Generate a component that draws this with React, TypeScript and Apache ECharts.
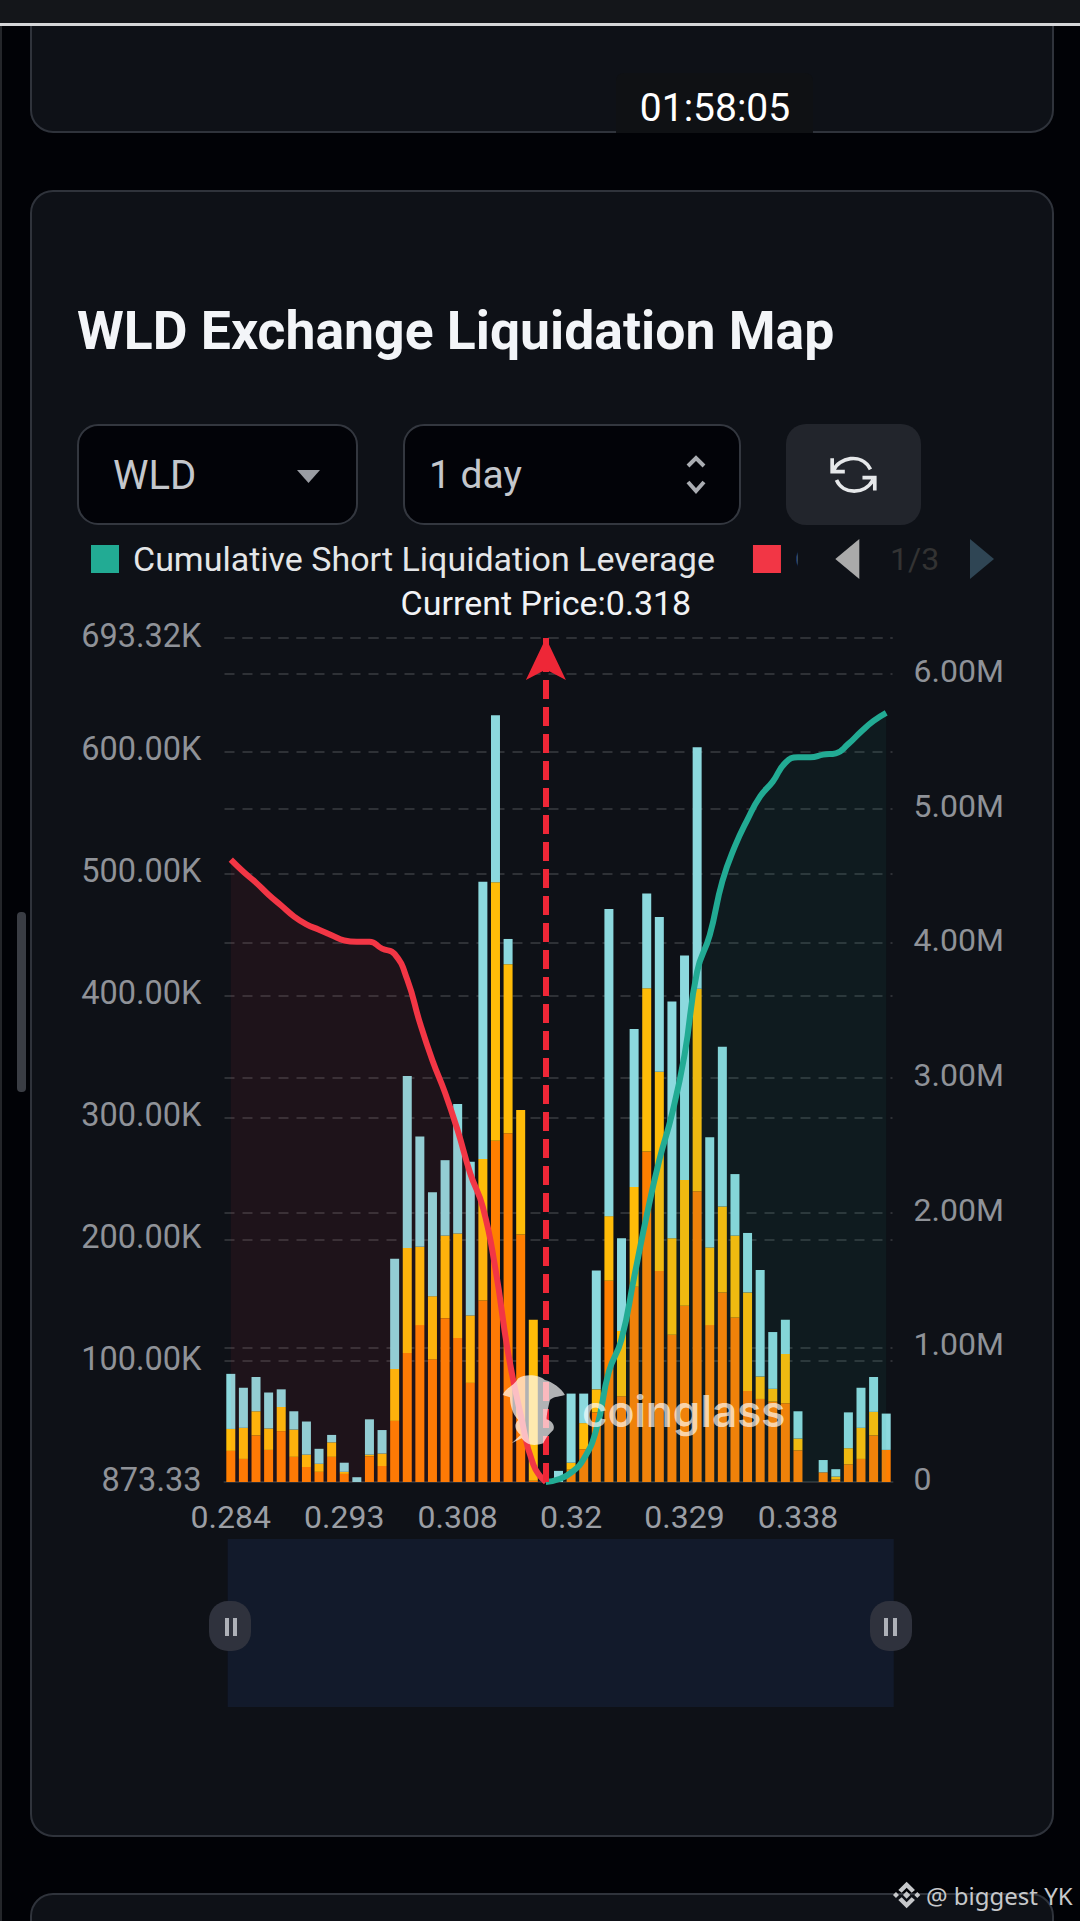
import React, { useEffect, useRef } from "react";
import * as echarts from "echarts";

// price buckets, one per bar
const categories = [
  "0.284", "0.285", "0.286", "0.287", "0.288", "0.289", "0.29", "0.291", "0.292", "0.293",
  "0.295", "0.297", "0.298", "0.3", "0.302", "0.303", "0.305", "0.306", "0.308",
  "0.309", "0.311", "0.312", "0.314", "0.315", "0.316", "0.318", "0.319", "0.32",
  "0.321", "0.322", "0.323", "0.324", "0.325", "0.326", "0.327", "0.328", "0.329",
  "0.33", "0.331", "0.332", "0.333", "0.334", "0.335", "0.336", "0.337", "0.338",
  "0.339", "0.34", "0.341", "0.342", "0.343", "0.344", "0.345",
];

// stacked liquidation bars, in thousands
const orangeK = [
  26.4, 19.8, 39.1, 27.2, 42.6, 21.5, 13.2, 9.2, 21.5, 7.5, 0, 22, 14, 51, 106.8, 129.6, 101.5, 135.3, 119, 82.2,
  149.8, 280.8, 286.9, 203.9, 2, 0, 0, 11, 27.7, 58, 166, 71.2, 161, 272, 174, 121.7, 145.4, 239.5, 129.6, 156.4,
  135.8, 75.6, 69, 66.8, 65.5, 26.8, 0, 8.8, 3, 15.4, 19.8, 39.1, 27.2,
];
const yellowK = [
  18, 25.5, 19.8, 17.6, 19.8, 22.4, 10.1, 6.6, 11.9, 1.7, 0, 1.3, 10.2, 42.6, 86.1, 64.2, 51.8, 67.7, 85.7, 55.3,
  116, 212.2, 138.8, 102.1, 132, 0, 0, 5.7, 21.5, 18.9, 53, 53.6, 82, 134, 163.4, 79.1, 103.3, 166, 63.7, 70.6,
  67.2, 80.8, 18.4, 10.5, 40.4, 9.7, 0, 0, 2.3, 13.2, 25.5, 19.3, 0,
];
const tealK = [
  45.2, 32.9, 28.1, 29.5, 14.5, 15, 27.2, 12.3, 6.1, 7.5, 4.8, 29, 19.3, 90.4, 141, 90.5, 85.3, 61.9, 106.3, 126.1,
  227.6, 137, 20.7, 0, 0, 0, 10, 56.7, 24.2, 97.5, 252, 76, 129.6, 77.7, 127, 194.2, 184.1, 198.2, 90.5, 131,
  50.5, 48.8, 87.5, 46.6, 28.1, 22.4, 0, 10.1, 6.1, 29.4, 32.9, 28.6, 29.8,
];

// cumulative curves, in millions; long side runs up to the current price, short side from it
const longM = [
  4.62, 4.53, 4.45, 4.36, 4.28, 4.2, 4.14, 4.1, 4.06, 4.02, 4.01, 4.01, 3.96, 3.92, 3.73, 3.41, 3.13, 2.89, 2.61, 2.29,
  2.04, 1.58, 0.96, 0.5, 0.13, 0,
];
const shortM = [
  0, 0.02, 0.07, 0.17, 0.39, 0.82, 1.06, 1.52, 1.98, 2.39, 2.73, 3.17, 3.79, 4.06, 4.46, 4.72, 4.92, 5.09, 5.2, 5.34,
  5.38, 5.38, 5.4, 5.41, 5.48, 5.57, 5.65, 5.71,
];

const currentPrice = "0.318";
const fontFamily = "Roboto";
const cardBg = "#0e1117";
const cardBorder = "#2f333b";

echarts.graphic.registerShape(
  "mascot",
  echarts.graphic.extendPath(
    "M38 105C45 85 70 80 85 55C105 40 150 45 165 60C185 65 215 85 225 105C200 112 190 110 180 120C175 140 170 165 170 178C190 185 195 200 190 210C175 225 170 230 160 250C130 260 110 255 95 235L65 250L92 225C75 210 70 195 85 180C65 160 60 130 60 112Z",
    {}
  )
);
echarts.graphic.registerShape(
  "refresh",
  echarts.graphic.extendPath(
    "M522 120C535 85 605 65 632 118M530 150C550 195 615 195 640 150M517 85L517 125L555 125M645 182L645 143L608 143",
    {}
  )
);
echarts.graphic.registerShape(
  "binance",
  echarts.graphic.extendPath(
    "M80 65L105 90L95 98L80 83L65 98L55 90ZM80 145L105 120L95 112L80 127L65 112L55 120ZM80 94L91 105L80 116L69 105ZM48 96L57 105L48 114L39 105ZM112 96L121 105L112 114L103 105Z",
    {}
  )
);

const formatLeft = (value: number) => {
  if (value >= 1000) return `${(value / 1000).toFixed(2)}K`;
  return value.toFixed(2);
};

const formatRight = (value: number) => {
  if (value === 0) return "0";
  return `${(value / 1000000).toFixed(2)}M`;
};

const card = (x: number, y: number, width: number, height: number) => ({
  type: "rect",
  z: -90,
  shape: { x, y, width, height, r: 22 },
  style: { fill: cardBg, stroke: cardBorder, lineWidth: 2 },
});

const label = (text: string, x: number, y: number, font: string, fill: string, textAlign = "left", z = 10) => ({
  type: "text",
  z,
  x,
  y,
  style: { text, font, fill, textAlign, textVerticalAlign: "middle" },
});

// slider handle pill, drawn over the dataZoom's own (invisible) handle
const pill = (x: number) => ({
  type: "rect",
  z: 19,
  shape: { x, y: 1601, width: 42, height: 50, r: 19 },
  style: { fill: "#2f323d" },
});

const grip = (x: number) => ({
  type: "rect",
  z: 20,
  shape: { x, y: 1618, width: 4, height: 18 },
  style: { fill: "#aeb1b8" },
});

const App: React.FC = () => {
  const chartRef = useRef<HTMLDivElement>(null);

  useEffect(() => {
    if (chartRef.current) {
      const chartInstance = echarts.init(chartRef.current, null, { renderer: "svg" });

      const barSeries = (name: string, values: number[], color: string) => ({
        name,
        type: "bar",
        stack: "exchange",
        barWidth: 9,
        z: 1,
        itemStyle: { color },
        data: values.map((v) => v * 1000),
      });

      const options = {
        animation: false,
        backgroundColor: "#010206",
        textStyle: { fontFamily },
        legend: {
          type: "scroll",
          left: 91,
          top: 539,
          width: 903,
          padding: 0,
          icon: "rect",
          itemWidth: 28,
          itemHeight: 28,
          itemGap: 38,
          textStyle: { color: "#e4e6e8", fontSize: 34, fontFamily, padding: [0, 0, 0, 9] },
          pageIconSize: [28, 40],
          pageIconColor: "#2f4554",
          pageIconInactiveColor: "#aaa",
          pageButtonItemGap: 17,
          pageTextStyle: { color: "#333", fontSize: 32, fontFamily },
          data: [
            "Cumulative Short Liquidation Leverage",
            "Cumulative Long Liquidation Leverage",
            "Bybit",
            "Binance",
            "OKX",
          ],
        },
        grid: { left: 224.5, right: 187.5, top: 638, bottom: 439 },
        xAxis: {
          type: "category",
          data: categories,
          axisLine: { lineStyle: { color: "#2c2f34", width: 2 } },
          axisTick: { interval: 8, length: 14, lineStyle: { color: "#2c2f34", width: 2 } },
          axisLabel: { interval: 8, color: "#9b9ea4", fontSize: 32, margin: 19, fontFamily },
        },
        yAxis: [
          {
            type: "value",
            min: 873.33,
            max: 693320,
            splitNumber: 7,
            axisLine: { show: false },
            axisTick: { show: false },
            axisLabel: {
              formatter: formatLeft,
              color: "#8f9298",
              fontSize: 32.5,
              margin: 23,
              fontFamily,
              verticalAlign: "bottom",
              lineHeight: 5,
            },
            splitLine: { lineStyle: { color: "#2e3136", type: [10, 8], width: 2 } },
          },
          {
            type: "value",
            min: 0,
            max: 6266000,
            splitNumber: 6,
            axisLine: { show: false },
            axisTick: { show: false },
            axisLabel: {
              formatter: formatRight,
              showMaxLabel: false,
              color: "#8f9298",
              fontSize: 32,
              margin: 21,
              fontFamily,
              verticalAlign: "bottom",
              lineHeight: 6,
            },
            splitLine: { lineStyle: { color: "#2e3136", type: [10, 8], width: 2 } },
          },
        ],
        dataZoom: [
          {
            type: "slider",
            xAxisIndex: 0,
            start: 0,
            end: 100,
            filterMode: "none",
            left: 227,
            right: 187,
            top: 1539,
            height: 168,
            backgroundColor: "transparent",
            borderColor: "transparent",
            fillerColor: "#121a2b",
            showDetail: false,
            showDataShadow: false,
            brushSelect: false,
            moveHandleSize: 0,
            handleStyle: { opacity: 0 },
          },
        ],
        series: [
          barSeries("Bybit", orangeK, "#ff7f00"),
          barSeries("Binance", yellowK, "#ffbc08"),
          barSeries("OKX", tealK, "#8cd9de"),
          {
            name: "Cumulative Long Liquidation Leverage",
            type: "line",
            yAxisIndex: 1,
            z: 3,
            smooth: true,
            showSymbol: false,
            itemStyle: { color: "#f23645" },
            lineStyle: { color: "#f23645", width: 6 },
            areaStyle: { color: "rgba(242,54,69,0.1)" },
            data: longM.map((v) => v * 1000000),
            markLine: {
              silent: true,
              symbol: ["none", "arrow"],
              symbolSize: [30, 42],
              lineStyle: { color: "#ee2737", type: [19, 8], width: 6 },
              label: {
                position: "end",
                formatter: `Current Price:${currentPrice}`,
                color: "#f2f3f5",
                fontSize: 34,
                fontFamily,
                distance: 18,
              },
              data: [{ xAxis: currentPrice }],
            },
          },
          {
            name: "Cumulative Short Liquidation Leverage",
            type: "line",
            yAxisIndex: 1,
            z: 3,
            smooth: true,
            showSymbol: false,
            itemStyle: { color: "#22ab94" },
            lineStyle: { color: "#22ab94", width: 6 },
            areaStyle: { color: "rgba(34,171,148,0.1)" },
            data: [...categories.slice(0, 25).map(() => null), ...shortM.map((v) => v * 1000000)],
          },
        ],
        graphic: [
          // page furniture around the chart
          card(31, -40, 1022, 172),
          card(31, 191, 1022, 1645),
          card(31, 1894, 1022, 120),
          { type: "rect", z: -80, shape: { x: 0, y: 0, width: 1080, height: 23 }, style: { fill: "#14161a" } },
          { type: "rect", z: -80, shape: { x: 0, y: 23, width: 1080, height: 3 }, style: { fill: "#d5d6d8" } },
          { type: "rect", z: -80, shape: { x: 0, y: 26, width: 2, height: 1895 }, style: { fill: "#24262a" } },
          { type: "rect", z: -80, shape: { x: 17, y: 912, width: 9, height: 180, r: 4 }, style: { fill: "#3a3d44" } },
          { type: "rect", z: -70, shape: { x: 616, y: 73, width: 197, height: 60, r: [8, 8, 0, 0] }, style: { fill: "#0f1114" } },
          label("01:58:05", 715, 108, `39px ${fontFamily}`, "#ffffff", "center"),
          label("WLD Exchange Liquidation Map", 77, 330, `700 53.5px ${fontFamily}`, "#f3f5f8"),
          {
            type: "rect",
            z: -70,
            shape: { x: 78, y: 425, width: 279, height: 99, r: 20 },
            style: { fill: "#020308", stroke: "#33373f", lineWidth: 2 },
          },
          {
            type: "rect",
            z: -70,
            shape: { x: 404, y: 425, width: 336, height: 99, r: 20 },
            style: { fill: "#020308", stroke: "#33373f", lineWidth: 2 },
          },
          { type: "rect", z: -70, shape: { x: 786, y: 424, width: 135, height: 101, r: 20 }, style: { fill: "#22252c" } },
          label("WLD", 113, 475, `40px ${fontFamily}`, "#c4c7cc"),
          label("1 day", 429, 475, `39px ${fontFamily}`, "#c4c7cc"),
          {
            type: "polygon",
            z: 10,
            shape: { points: [[297, 470], [320, 470], [308.5, 483]] },
            style: { fill: "#9a9da3" },
          },
          {
            type: "polyline",
            z: 10,
            shape: { points: [[688, 466], [696, 458], [704, 466]] },
            style: { stroke: "#aaadb2", lineWidth: 4, fill: "none" },
          },
          {
            type: "polyline",
            z: 10,
            shape: { points: [[688, 482], [696, 491], [704, 482]] },
            style: { stroke: "#aaadb2", lineWidth: 4, fill: "none" },
          },
          {
            type: "refresh",
            z: 10,
            x: 660,
            y: 430,
            scaleX: 1 / 3,
            scaleY: 1 / 3,
            style: { stroke: "#e6e8ea", lineWidth: 11, fill: "none" },
          },
          // slider handles
          pill(209),
          pill(870),
          grip(225),
          grip(233),
          grip(884),
          grip(893),
          // watermark
          {
            type: "mascot",
            z: 30,
            x: 490,
            y: 1360,
            scaleX: 1 / 3,
            scaleY: 1 / 3,
            style: { fill: "rgba(255,255,255,0.68)" },
          },
          label("coinglass", 582, 1411, `600 44px Inter`, "rgba(255,255,255,0.68)", "left", 30),
          {
            type: "binance",
            z: 30,
            x: 880,
            y: 1860,
            scaleX: 1 / 3,
            scaleY: 1 / 3,
            style: { fill: "#c6c8ca" },
          },
          label("@ biggest YK", 926, 1895, `24px "Noto Sans"`, "#c6c8ca", "left", 30),
        ],
      };

      chartInstance.setOption(options as any);

      // Cleanup the chart instance on unmount
      return () => {
        chartInstance.dispose();
      };
    }
  }, []);

  return <div ref={chartRef} style={{ position: "absolute", left: 0, top: 0, width: "1080px", height: "1921px" }} />;
};

export default App;
